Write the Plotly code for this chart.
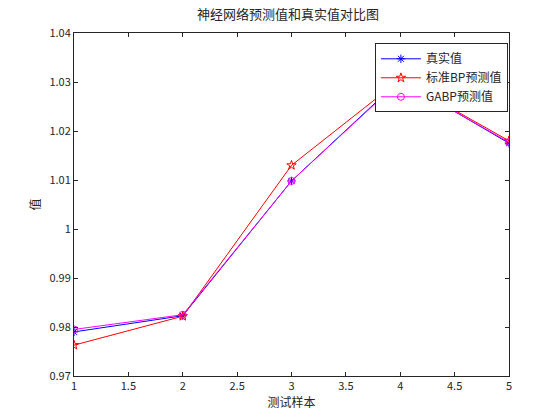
import plotly.graph_objects as go

x = [1, 2, 3, 4, 5]
real = [0.9790, 0.9823, 1.0098, 1.0305, 1.0175]
bp = [0.9763, 0.9822, 1.0130, 1.0305, 1.0180]
ga = [0.9795, 0.9825, 1.0098, 1.0303, 1.0177]

fig = go.Figure()
fig.add_trace(go.Scatter(x=x, y=real, name="真实值", mode="lines+markers",
    line=dict(color="blue", width=1), marker=dict(symbol="asterisk-open", size=7, color="blue", line=dict(color="blue", width=1))))
fig.add_trace(go.Scatter(x=x, y=bp, name="标准BP预测值", mode="lines+markers",
    line=dict(color="red", width=1), marker=dict(symbol="star-open", size=7, color="red", line=dict(color="red", width=1))))
fig.add_trace(go.Scatter(x=x, y=ga, name="GABP预测值", mode="lines+markers",
    line=dict(color="magenta", width=1), marker=dict(symbol="circle-open", size=7, color="magenta", line=dict(color="magenta", width=1))))

ax = dict(showgrid=False, zeroline=False, showline=True, linecolor="#262626", mirror="ticks",
          ticks="inside", ticklen=4, tickcolor="#262626", tickfont=dict(size=11, color="#262626"))
fig.update_layout(
    width=560, height=420, paper_bgcolor="white", plot_bgcolor="white",
    margin=dict(l=66, r=59, t=25, b=52),
    font=dict(family="Noto Sans CJK SC, Liberation Sans, sans-serif", color="#262626"),
    title=dict(text="神经网络预测值和真实值对比图", x=0.5, xanchor="center", y=0.995, yanchor="top", font=dict(size=13)),
    xaxis=dict(**ax, range=[1, 5], dtick=0.5, title=dict(text="测试样本", font=dict(size=12), standoff=2)),
    yaxis=dict(**ax, range=[0.97, 1.04], dtick=0.01, title=dict(text="值", font=dict(size=12), standoff=6)),
    legend=dict(x=0.9975, xanchor="right", y=0.97, yanchor="top", bgcolor="white", bordercolor="#262626",
                borderwidth=1, font=dict(size=12), tracegroupgap=0, itemwidth=40),
)
fig.write_html("out.html")
